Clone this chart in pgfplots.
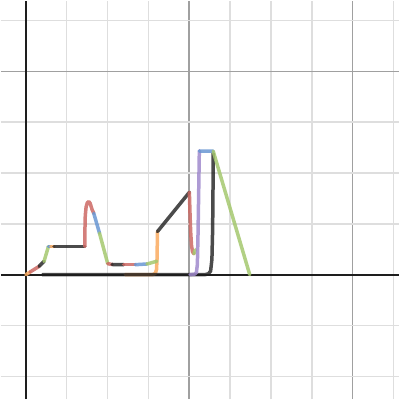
\documentclass[border=0pt]{standalone}
\usepackage{pgfplots}
\pgfplotsset{compat=1.18}
\definecolor{dred}{RGB}{205,105,100}
\definecolor{dblue}{RGB}{105,150,210}
\definecolor{dgreen}{RGB}{165,200,110}
\definecolor{dpurple}{RGB}{160,138,205}
\definecolor{dorange}{RGB}{250,170,95}
\definecolor{dblack}{RGB}{30,30,30}
\definecolor{minorgrid}{RGB}{222,222,222}
\definecolor{majorgrid}{RGB}{160,160,160}

\begin{document}
\begin{tikzpicture}
\begin{axis}[
    scale only axis,
    width=10cm, height=10cm,
    xmin=-0.3046, xmax=4.569,
    ymin=-1.2236, ymax=2.692,
    axis lines=middle,
    axis line style={-, color=dblack, line width=1.3pt},
    xtick={0,2,4}, ytick={0,2},
    minor xtick={-0.5,0.5,1,1.5,2.5,3,3.5,4.5},
    minor ytick={-1,-0.5,0.5,1,1.5,2.5},
    xticklabels={}, yticklabels={},
    tick style={draw=none},
    grid=both,
    major grid style={majorgrid, line width=1.1pt},
    minor grid style={minorgrid, line width=1.1pt},
    every axis plot/.append style={line width=2.5pt, line cap=round, line join=round, opacity=0.85},
    clip=true,
]
% orange along axis and up
\addplot[dorange] coordinates {(1.218,0) (1.55,0) (1.585,0.012) (1.600,0.05) (1.606,0.15) (1.612,0.424)};
% bottom black curve
\addplot[dblack, opacity=0.8] coordinates {(0.203,0) (2.19,0) (2.235,0.008) (2.262,0.035) (2.278,0.15) (2.287,0.45) (2.292,0.9) (2.294,1.194)};
% left chain
\addplot[dorange] coordinates {(0,0) (0.052,0.026)};
\addplot[dred] coordinates {(0.052,0.026) (0.162,0.081)};
\addplot[dblack, opacity=0.8] coordinates {(0.162,0.081) (0.223,0.130)};
\addplot[dgreen] coordinates {(0.223,0.130) (0.277,0.277)};
\addplot[dblue] coordinates {(0.277,0.277) (0.305,0.277)};
\addplot[dorange] coordinates {(0.305,0.277) (0.345,0.277)};
\addplot[dblack, opacity=0.8] coordinates {(0.345,0.277) (0.722,0.277)};
\addplot[dred] coordinates {(0.722,0.277) (0.724,0.45) (0.728,0.58) (0.738,0.665) (0.753,0.708) (0.771,0.718) (0.787,0.703) (0.800,0.670) (0.812,0.638) (0.832,0.604)};
\addplot[dblue] coordinates {(0.832,0.604) (0.902,0.408)};
\addplot[dgreen] coordinates {(0.902,0.408) (1.003,0.108)};
\addplot[dred] coordinates {(1.003,0.108) (1.056,0.100)};
\addplot[dblack, opacity=0.8] coordinates {(1.056,0.100) (1.198,0.098)};
\addplot[dred] coordinates {(1.198,0.098) (1.340,0.098)};
\addplot[dblue] coordinates {(1.340,0.098) (1.483,0.105)};
\addplot[dgreen] coordinates {(1.483,0.105) (1.605,0.132)};
% right part
\addplot[dblack, opacity=0.8] coordinates {(1.612,0.424) (2.002,0.810)};
\addplot[dred] coordinates {(2.002,0.810) (2.010,0.60) (2.018,0.42) (2.028,0.29) (2.040,0.225) (2.058,0.205)};
\addplot[dgreen] coordinates {(2.058,0.205) (2.075,0.245)};
\addplot[dpurple] coordinates {(2.010,0) (2.065,0.004) (2.088,0.02) (2.100,0.10) (2.108,0.40) (2.116,0.80) (2.124,1.219)};
\addplot[dblue] coordinates {(2.124,1.216) (2.294,1.214)};
\addplot[dgreen] coordinates {(2.294,1.214) (2.741,0)};
\end{axis}
\end{tikzpicture}
\end{document}
